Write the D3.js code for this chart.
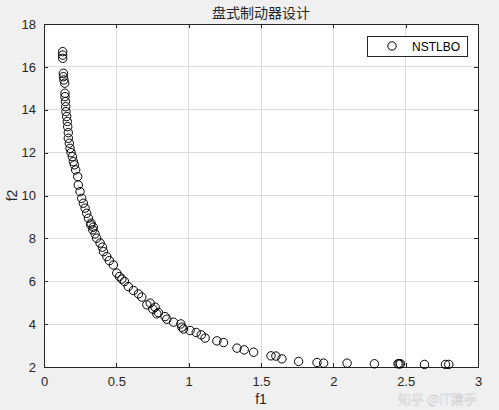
<!DOCTYPE html>
<html><head><meta charset="utf-8">
<script src="https://cdn.jsdelivr.net/npm/d3@7"></script>
<style>body{margin:0;background:#f0f0f0;}svg{display:block;}</style>
</head><body>
<svg id="c" width="499" height="410"></svg>
<script>
const title = "盘式制动器设计";
const seriesName = "NSTLBO";
const xLabel = "f1", yLabel = "f2";
const xTicks = [0, 0.5, 1, 1.5, 2, 2.5, 3];
const yTicks = [2, 4, 6, 8, 10, 12, 14, 16, 18];
const f1 = [0.129,0.129,0.129,0.134,0.134,0.138,0.143,0.145,0.145,0.148,0.150,0.152,0.157,0.161,0.164,0.168,
  0.168,0.175,0.180,0.187,0.196,0.203,0.210,0.219,0.233,0.237,0.249,0.261,0.272,0.284,0.295,0.307,0.325,0.341,
  0.323,0.337,0.353,0.364,0.388,0.404,0.411,0.434,0.452,0.480,0.503,0.521,0.538,0.556,0.583,0.618,0.653,0.676,0.734,0.768,
  0.711,0.752,0.780,0.791,0.837,0.849,0.895,0.946,0.953,0.964,1.010,1.052,1.087,1.114,1.195,1.241,1.334,1.384,1.449,
  1.569,1.603,1.645,1.760,1.887,1.933,2.095,2.284,2.447,2.455,2.464,2.630,2.775,2.798];
const f2 = [16.71,16.55,16.40,15.70,15.54,15.39,15.24,14.77,14.61,14.38,14.14,13.91,13.68,13.45,13.21,12.93,
  12.67,12.44,12.20,12.00,11.81,11.58,11.43,11.19,10.88,10.49,10.18,9.87,9.64,9.41,9.17,8.94,8.71,8.52,
  8.63,8.40,8.21,8.01,7.78,7.59,7.38,7.15,6.96,6.76,6.38,6.22,6.10,5.99,5.75,5.57,5.41,5.26,4.98,4.79,
  4.90,4.70,4.48,4.54,4.35,4.23,4.09,4.01,3.86,3.77,3.70,3.61,3.50,3.35,3.22,3.14,2.88,2.80,2.69,
  2.52,2.51,2.38,2.26,2.21,2.18,2.18,2.15,2.15,2.15,2.15,2.12,2.12,2.12];

const L = 44, R = 478, T = 24, B = 367;
const svg = d3.select("#c");
const x = d3.scaleLinear().domain([0, 3]).range([L, R]);
const y = d3.scaleLinear().domain([2, 18]).range([B, T]);
const font = "'Liberation Sans', Arial, sans-serif";
const axisCol = "#262626";

svg.append("rect").attr("x", L).attr("y", T).attr("width", R - L).attr("height", B - T).attr("fill", "#fff");

// grid
const g = svg.append("g");
xTicks.forEach(t => g.append("line").attr("x1", x(t)).attr("x2", x(t)).attr("y1", T).attr("y2", B)
  .attr("stroke", "#dcdcdc").attr("stroke-width", 1).attr("shape-rendering", "crispEdges"));
yTicks.forEach(t => g.append("line").attr("x1", L).attr("x2", R).attr("y1", y(t)).attr("y2", y(t))
  .attr("stroke", "#dcdcdc").attr("stroke-width", 1).attr("shape-rendering", "crispEdges"));

// axes
const tickLen = 4;
const xb = svg.append("g").attr("transform", `translate(0,${B})`)
  .call(d3.axisBottom(x).tickValues(xTicks).tickSizeInner(-tickLen).tickSizeOuter(0).tickPadding(10).tickFormat(d3.format("")));
const xt = svg.append("g").attr("transform", `translate(0,${T})`)
  .call(d3.axisTop(x).tickValues(xTicks).tickSizeInner(-tickLen).tickSizeOuter(0).tickFormat(""));
const yl = svg.append("g").attr("transform", `translate(${L},0)`)
  .call(d3.axisLeft(y).tickValues(yTicks).tickSizeInner(-tickLen).tickSizeOuter(0).tickPadding(8).tickFormat(d3.format("")));
const yr = svg.append("g").attr("transform", `translate(${R},0)`)
  .call(d3.axisRight(y).tickValues(yTicks).tickSizeInner(-tickLen).tickSizeOuter(0).tickFormat(""));
[xb, xt, yl, yr].forEach(a => {
  a.selectAll("path").attr("stroke", axisCol).attr("shape-rendering", "crispEdges");
  a.selectAll("line").attr("stroke", axisCol).attr("shape-rendering", "crispEdges");
  a.selectAll("text").attr("fill", axisCol).style("font-family", font).style("font-size", "13px");
});

// points
svg.append("g").selectAll("circle").data(f1.map((v, i) => [v, f2[i]])).join("circle")
  .attr("cx", d => x(d[0])).attr("cy", d => y(d[1])).attr("r", 4.2)
  .attr("fill", "none").attr("stroke", "#000").attr("stroke-width", 1);

// labels
svg.append("text").attr("x", (L + R) / 2).attr("y", 18).attr("text-anchor", "middle")
  .style("font-family", "'Noto Sans CJK SC', sans-serif").style("font-size", "14px").attr("fill", axisCol).text(title);
svg.append("text").attr("x", (L + R) / 2).attr("y", 404).attr("text-anchor", "middle")
  .style("font-family", font).style("font-size", "14px").attr("fill", axisCol).text(xLabel);
svg.append("text").attr("transform", `translate(17,${(T + B) / 2}) rotate(-90)`).attr("text-anchor", "middle")
  .style("font-family", font).style("font-size", "14px").attr("fill", axisCol).text(yLabel);

// legend
const lg = svg.append("g");
lg.append("rect").attr("x", 367.5).attr("y", 36.5).attr("width", 100).attr("height", 20)
  .attr("fill", "#fff").attr("stroke", axisCol).attr("stroke-width", 1);
lg.append("circle").attr("cx", 392).attr("cy", 46).attr("r", 4.2).attr("fill", "none").attr("stroke", "#000");
lg.append("text").attr("x", 412).attr("y", 51).style("font-family", font).style("font-size", "12px")
  .attr("fill", "#000").text(seriesName);

// watermark
svg.append("text").attr("x", 398).attr("y", 404).style("font-family", "'Noto Sans CJK SC', sans-serif")
  .style("font-size", "13px").attr("fill", "#fff").attr("opacity", 0.85).attr("stroke", "#c0c0c0").attr("stroke-width", 0.4)
  .text("知乎 @IT猿手");
</script>
</body></html>
